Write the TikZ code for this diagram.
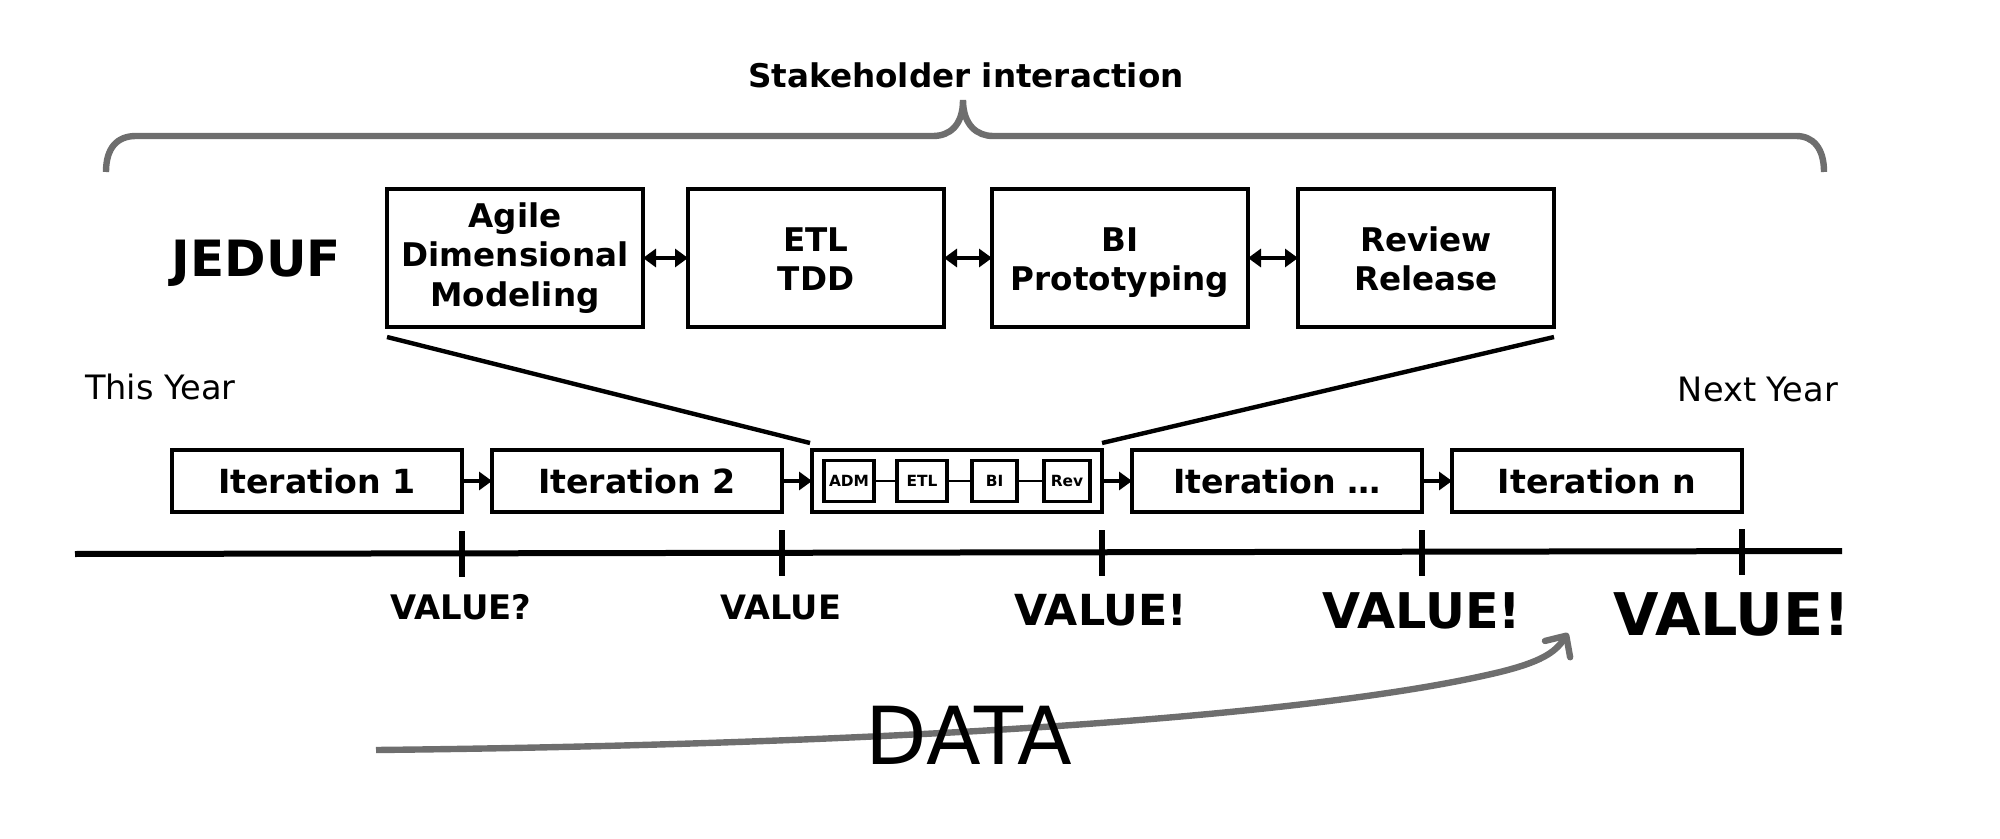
\documentclass[tikz,border=0pt]{standalone}
\usepackage{fontspec}
\setmainfont{DejaVu Sans}
\usetikzlibrary{positioning,calc,arrows.meta}
\definecolor{bracegray}{HTML}{6E6E6E}

\begin{document}
\begin{tikzpicture}[x=50pt,y=50pt,line width=2.2pt]
\def\nw{50pt}
\useasboundingbox (0,0) rectangle (20,-8.39);

\tikzstyle{phase}=[draw,align=center,outer sep=0,inner sep=0,minimum width=2.56*\nw,minimum height=1.38*\nw,font=\fontsize{16.3}{19.6}\selectfont\bfseries]
\tikzstyle{two}=[text height=33pt,text depth=0pt]
\tikzstyle{iter}=[draw,outer sep=0,inner sep=0,minimum width=2.9*\nw,minimum height=.62*\nw,node distance=.3*\nw,font=\fontsize{16.6}{20}\selectfont\bfseries]
\tikzstyle{mini}=[draw,line width=1.7pt,outer sep=0,inner sep=0,minimum height=.41*\nw,font=\fontsize{7.7}{9}\selectfont\bfseries]
\tikzstyle{gain}=[inner sep=0,outer sep=0]
\tikzstyle{year}=[inner sep=0,outer sep=0,font=\fontsize{16.8}{20}\selectfont]
\tikzstyle{link}=[-{Triangle[length=6.5pt,width=9pt]}]
\tikzstyle{both}=[{Triangle[length=6.5pt,width=9pt]}-{Triangle[length=6.5pt,width=9pt]}]

% upper row
\node[phase] at (5.15,-2.58) (adm) {Agile\\Dimensional\\Modeling};
\node[phase,two,node distance=.45*\nw,right = of adm] (etl) {ETL\\TDD};
\node[phase,two,node distance=.48*\nw,right = of etl] (bi) {BI\\Prototyping};
\node[phase,two,node distance=.5*\nw,right = of bi] (rev) {Review\\Release};

\draw[both] (adm.east) -- (etl.west);
\draw[both] (etl.east) -- (bi.west);
\draw[both] (bi.east) -- (rev.west);

\node[inner sep=0,font=\fontsize{25}{30}\selectfont\bfseries,left = .44*\nw of adm.west,yshift=-.05*\nw] (jeduf) {JEDUF};

% brace over the upper row
\coordinate (braceleft) at (1.06,-1.72);
\coordinate (bracetip) at (9.63,-1.0);
\coordinate (braceright) at (18.24,-1.72);
\draw[draw=bracegray,line width=3.2pt] (braceleft) .. controls (1.06,-1.48) and (1.17,-1.36) .. (1.36,-1.36) -- (9.33,-1.36) .. controls (9.5,-1.36) and (9.63,-1.25) .. (bracetip) .. controls (9.63,-1.25) and (9.77,-1.36) .. (9.93,-1.36) -- (17.96,-1.36) .. controls (18.13,-1.36) and (18.24,-1.48) .. (braceright);
\node[inner sep=0,font=\fontsize{16.3}{20}\selectfont\bfseries,above = .1*\nw of bracetip,xshift=.03*\nw] (stake) {Stakeholder interaction};

% iterations
\node[iter] at (3.17,-4.81) (iter1) {Iteration 1};
\node[iter,right = of iter1] (iter2) {Iteration 2};
\node[iter,right = of iter2] (iter3) {};
\node[iter,right = of iter3] (iter4) {Iteration \ldots};
\node[iter,right = of iter4] (iter5) {Iteration n};

\draw[link] (iter1.east) -- (iter2.west);
\draw[link] (iter2.east) -- (iter3.west);
\draw[link] (iter3.east) -- (iter4.west);
\draw[link] (iter4.east) -- (iter5.west);

% small copy of the upper row
\node[mini,minimum width=.5*\nw,right = .12*\nw of iter3.west] (madm) {ADM};
\node[mini,minimum width=.5*\nw,right = .23*\nw of madm] (metl) {ETL};
\node[mini,minimum width=.45*\nw,right = .25*\nw of metl] (mbi) {BI};
\node[mini,minimum width=.46*\nw,right = .27*\nw of mbi] (mrev) {Rev};
\draw[line width=1.4pt] (madm) -- (metl);
\draw[line width=1.4pt] (metl) -- (mbi);
\draw[line width=1.4pt] (mbi) -- (mrev);

% zoom lines
\coordinate (aux1) at ($ (adm.south west) + (0,-.1*\nw) $);
\coordinate (aux2) at ($ (iter3.north west) + (-.02*\nw,.07*\nw) $);
\coordinate (aux3) at ($ (rev.south east) + (0,-.1*\nw) $);
\coordinate (aux4) at ($ (iter3.north east) + (0,.07*\nw) $);
\draw (aux1) -- (aux2);
\draw (aux3) -- (aux4);

\node[year,anchor=west] at (.85,-3.87) (thisyear) {This Year};
\node[year,anchor=east] at (18.38,-3.89) (nextyear) {Next Year};

% time line
\coordinate (tlstart) at (.75,-5.54);
\coordinate (tlend) at (18.42,-5.51);
\draw[line width=3pt] (tlstart) -- (tlend);

\coordinate (t1) at ($ (iter1.east |- 0,-5.54) $);
\coordinate (t2) at ($ (iter2.east |- 0,-5.53) $);
\coordinate (t3) at ($ (iter3.east |- 0,-5.53) $);
\coordinate (t4) at ($ (iter4.east |- 0,-5.53) $);
\coordinate (t5) at ($ (iter5.east |- 0,-5.52) $);
\draw[line width=3pt] ($ (t1) + (0,.23*\nw) $) -- ($ (t1) + (0,-.23*\nw) $);
\draw[line width=3pt] ($ (t2) + (0,.23*\nw) $) -- ($ (t2) + (0,-.23*\nw) $);
\draw[line width=3pt] ($ (t3) + (0,.23*\nw) $) -- ($ (t3) + (0,-.23*\nw) $);
\draw[line width=3pt] ($ (t4) + (0,.23*\nw) $) -- ($ (t4) + (0,-.23*\nw) $);
\draw[line width=3pt] ($ (t5) + (0,.23*\nw) $) -- ($ (t5) + (0,-.23*\nw) $);

\node[gain,font=\fontsize{16.9}{20}\selectfont\bfseries] at (4.61,-6.07) (val1) {VALUE?};
\node[gain,font=\fontsize{16.8}{20}\selectfont\bfseries] at (7.81,-6.07) (val2) {VALUE};
\node[gain,font=\fontsize{21.4}{25}\selectfont\bfseries] at (11.01,-6.10) (val3) {VALUE!};
\node[gain,font=\fontsize{24.6}{28}\selectfont\bfseries] at (14.22,-6.11) (val4) {VALUE!};
\node[gain,font=\fontsize{29.4}{34}\selectfont\bfseries] at (17.32,-6.14) (val5) {VALUE!};

% data curve, under its label
\coordinate (datastart) at (3.76,-7.50);
\coordinate (dataend) at (15.68,-6.33);
\draw[draw=bracegray,line width=3.2pt,-{Straight Barb[length=8pt,width=15pt,round]}] (datastart) .. controls (8.5,-7.45) and (13,-7.2) .. (15.0,-6.72) .. controls (15.4,-6.62) and (15.55,-6.53) .. (dataend);
\node[inner sep=0,font=\fontsize{40}{48}\selectfont] at (9.69,-7.35) (data) {DATA};

\end{tikzpicture}
\end{document}
